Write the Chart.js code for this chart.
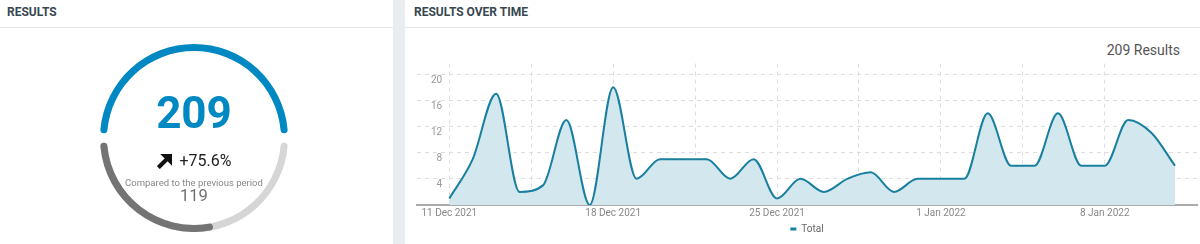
<!DOCTYPE html>
<html>
<head>
<meta charset="utf-8">
<script src="https://cdn.jsdelivr.net/npm/chart.js@4.4.1/dist/chart.umd.min.js"></script>
<style>
  body { margin: 0; width: 1200px; height: 244px; overflow: hidden; background: #fff; font-family: Roboto, "Noto Sans", sans-serif; position: relative; }
  .abs { position: absolute; }
  .hdr { font-size: 12px; font-weight: bold; color: #37474f; line-height: 1; top: 6px; }
  .hline { top: 27px; height: 1px; background: #e6e6e6; }
  .txt { line-height: 1; white-space: nowrap; }
</style>
</head>
<body>
<div class="abs hdr" style="left:7px">RESULTS</div>
<div class="abs hline" style="left:0;width:393px"></div>
<div class="abs" style="left:393px;top:0;width:12px;height:244px;background:#e9edf0"></div>
<div class="abs hdr" style="left:414px">RESULTS OVER TIME</div>
<div class="abs hline" style="left:405px;width:795px"></div>

<canvas id="gaugeLight" class="abs" width="188" height="188" style="left:100px;top:44px"></canvas>
<canvas id="gaugeDark" class="abs" width="188" height="188" style="left:100px;top:44px"></canvas>
<canvas id="gaugeBlue" class="abs" width="188" height="188" style="left:100px;top:44px"></canvas>

<div id="bigNum" class="abs txt" style="left:94px;width:200px;top:91px;text-align:center;font-size:44px;font-weight:bold;color:#0088c2"></div>
<div class="abs" style="left:94px;width:200px;top:153px;display:flex;justify-content:center;align-items:center">
  <svg width="15" height="15" viewBox="0 0 14 14" style="margin-right:8px"><polygon points="3,0 14,0 14,11" fill="#111"/><line x1="1.3" y1="12.7" x2="10.5" y2="3.5" stroke="#111" stroke-width="3.8"/></svg>
  <span id="changeTxt" class="txt" style="font-size:16px;color:#222"></span>
</div>
<div class="abs txt" style="left:94px;width:200px;top:178px;text-align:center;font-size:9.5px;color:#888">Compared to the previous period</div>
<div id="prevNum" class="abs txt" style="left:94px;width:200px;top:188px;text-align:center;font-size:16.5px;color:#707070"></div>

<div id="resultsTxt" class="abs txt" style="right:20px;top:43px;font-size:14px;color:#555"></div>

<canvas id="timeChart" class="abs" width="795" height="214" style="left:405px;top:30px"></canvas>

<script>
const days = ['11 Dec 2021', '12 Dec 2021', '13 Dec 2021', '14 Dec 2021', '15 Dec 2021', '16 Dec 2021', '17 Dec 2021',
  '18 Dec 2021', '19 Dec 2021', '20 Dec 2021', '21 Dec 2021', '22 Dec 2021', '23 Dec 2021', '24 Dec 2021',
  '25 Dec 2021', '26 Dec 2021', '27 Dec 2021', '28 Dec 2021', '29 Dec 2021', '30 Dec 2021', '31 Dec 2021',
  '1 Jan 2022', '2 Jan 2022', '3 Jan 2022', '4 Jan 2022', '5 Jan 2022', '6 Jan 2022', '7 Jan 2022',
  '8 Jan 2022', '9 Jan 2022', '10 Jan 2022', '11 Jan 2022'];
const totals = [1, 7, 17, 2, 3, 13, 0, 18, 4, 7, 7, 7, 4, 7, 1, 4, 2, 4, 5, 2, 4, 4, 4, 14, 6, 6, 14, 6, 6, 13, 11, 6];
const yTicks = [4, 8, 12, 16, 20];
const xGridDays = [0, 3.5, 7, 10.5, 14, 17.5, 21, 24.5, 28];
const previousTotal = 119;

const currentTotal = totals.reduce((a, b) => a + b, 0);
const change = (currentTotal - previousTotal) / previousTotal * 100;

document.getElementById('bigNum').textContent = currentTotal;
document.getElementById('prevNum').textContent = previousTotal;
document.getElementById('changeTxt').textContent = '+' + change.toFixed(1) + '%';
document.getElementById('resultsTxt').textContent = currentTotal + ' Results';

const lineColor = '#187f9f';
const fillColor = '#d3e8ee';
const clear = 'rgba(0,0,0,0)';

// gauge: each ring is its own doughnut on top of the others
const gap = 3;
const span = 180 - 2 * gap;
const rest = currentTotal * (360 - span) / span;

function gauge(id, rotation, values, colors) {
  new Chart(document.getElementById(id), {
    type: 'doughnut',
    data: { datasets: [{ data: values, backgroundColor: colors, borderWidth: 0, borderRadius: 4, hoverOffset: 0 }] },
    options: {
      responsive: false,
      animation: false,
      events: [],
      rotation: rotation,
      circumference: 360,
      cutout: '92.5%',
      plugins: { legend: { display: false }, tooltip: { enabled: false } }
    }
  });
}

gauge('gaugeLight', 90 + gap, [currentTotal, rest], ['#d6d6d6', clear]);
gauge('gaugeDark', 90 + gap, [currentTotal - previousTotal, previousTotal, rest], [clear, '#747474', clear]);
gauge('gaugeBlue', -90 + gap, [currentTotal, rest], ['#0088c2', clear]);

// labels may hang outside the plot, don't let them shrink it
const noPad = scale => { scale.paddingLeft = 0; scale.paddingRight = 0; scale.paddingTop = 0; scale.paddingBottom = 0; };

new Chart(document.getElementById('timeChart'), {
  type: 'line',
  data: {
    datasets: [{
      label: 'Total',
      data: totals.map((v, i) => ({ x: i, y: v })),
      borderColor: lineColor,
      backgroundColor: fillColor,
      borderWidth: 2,
      fill: 'origin',
      pointRadius: 0,
      cubicInterpolationMode: 'monotone'
    }]
  },
  options: {
    responsive: false,
    animation: false,
    events: [],
    layout: { padding: { left: 12, right: 3, top: 33.6, bottom: 0 } },
    scales: {
      x: {
        type: 'linear',
        min: -1.38,
        max: 31.94,
        afterBuildTicks: axis => { axis.ticks = xGridDays.map(v => ({ value: v })); },
        afterFit: noPad,
        grid: { color: '#dddddd', drawTicks: false },
        border: { display: true, color: '#aaaaaa', width: 2, dash: [4, 4] },
        ticks: {
          autoSkip: false,
          maxRotation: 0,
          padding: 2,
          color: '#888',
          font: { family: 'Roboto', size: 10 },
          callback: v => (v % 7 === 0 ? days[v] : '')
        }
      },
      y: {
        min: 0,
        max: 21.6,
        afterBuildTicks: axis => { axis.ticks = yTicks.map(v => ({ value: v })); },
        afterFit: scale => { noPad(scale); scale.width = 0; },
        grid: { color: '#dddddd', drawTicks: false },
        border: { display: false, dash: [4, 4] },
        ticks: {
          mirror: true,
          crossAlign: 'far',
          padding: 14,
          labelOffset: 6,
          color: '#999',
          font: { family: 'Roboto', size: 10 }
        }
      }
    },
    plugins: {
      tooltip: { enabled: false },
      legend: {
        position: 'bottom',
        labels: {
          boxWidth: 6,
          boxHeight: 3,
          padding: 3,
          color: '#666',
          font: { family: 'Roboto', size: 10 },
          generateLabels: chart => Chart.defaults.plugins.legend.labels.generateLabels(chart)
            .map(l => Object.assign(l, { fillStyle: lineColor, strokeStyle: lineColor, lineWidth: 0 }))
        }
      }
    }
  }
});
</script>
</body>
</html>
